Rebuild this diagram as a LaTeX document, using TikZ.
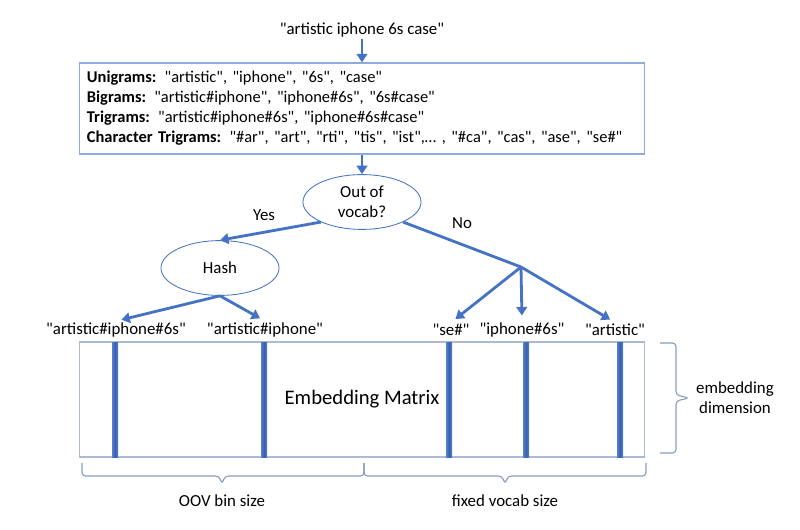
\documentclass[tikz,border=0pt]{standalone}
\usepackage{fontspec}
\setmainfont{Carlito}[Ligatures=TeXOff]
\usetikzlibrary{arrows.meta,shapes.geometric}
\definecolor{blx}{HTML}{4472C4}
\definecolor{bly}{HTML}{3560B4}
\definecolor{blz}{HTML}{8FAADC}
\definecolor{gbx}{HTML}{8A9CC0}
\tikzset{
    flow/.style={blx,line width=2pt,-{Triangle[length=6pt,width=7.5pt]}},
    bubble/.style={ellipse,draw=blx,line width=0.6pt,minimum width=2.95cm,minimum height=1.37cm,inner sep=0pt,align=center,font=\fontsize{12}{14.2}\selectfont},
    word/.style={inner sep=1pt,font=\fontsize{12}{14.2}\selectfont},
    curly/.style={gbx,line width=0.8pt,rounded corners=2.5pt}
}
\begin{document}
\begin{tikzpicture}[x=0.025cm,y=-0.025cm]
    \useasboundingbox (0,0) rectangle (800,530);
    \node [word] (query) at (362,30) {"artistic iphone 6s case"};
    \node [draw=blz,line width=0.8pt,minimum width=14.1cm,minimum height=2.275cm,
        text width=13.75cm,inner xsep=5pt,align=left,
        font=\fontsize{11.7}{14.2}\selectfont] (grams) at (362,108.5) {%
        \textbf{Unigrams:} "artistic", "iphone", "6s", "case"\\
        \textbf{Bigrams:} "artistic\#iphone", "iphone\#6s", "6s\#case"\\
        \textbf{Trigrams:} "artistic\#iphone\#6s", "iphone\#6s\#case"\\
        \textbf{Character Trigrams:} "\#ar", "art", "rti", "tis", "ist",… , "\#ca", "cas", "ase", "se\#"};
    \node [bubble] (oov) at (362,202) {Out of\\vocab?};
    \node [bubble] (hash) at (220,268) {Hash};
    \node [word] (yes) at (264,215) {Yes};
    \node [word] (no) at (462,223) {No};
    \coordinate (split) at (521,267);
    % lookup keys above the matrix
    \node [word] (tri) at (116,330) {"artistic\#iphone\#6s"};
    \node [word] (bi) at (265,330) {"artistic\#iphone"};
    \node [word] (chr) at (451,330) {"se\#"};
    \node [word] (big) at (522,330) {"iphone\#6s"};
    \node [word] (uni) at (615,330) {"artistic"};
    \node [draw=gbx!70,line width=0.8pt,minimum width=14.1cm,minimum height=2.875cm,
        font=\fontsize{14.7}{17}\selectfont] (emb) at (362,399.5) {Embedding Matrix};
    \foreach \x in {115,264,449,526,620} {
        \shade [left color=blx!90,right color=blx!90,middle color=bly] (\x-3,342) rectangle (\x+3,457);
    }
    \draw [flow] (query) -- (grams);
    \draw [flow] (grams) -- (oov);
    \draw [flow] (oov.206) -- (hash.north);
    \draw [blx,line width=2pt] (oov.334) -- (split);
    \foreach \t in {chr,big,uni} {
        \draw [flow,shorten >=4pt] (split) -- (\t.north);
    }
    \foreach \t in {tri,bi} {
        \draw [flow,shorten >=4pt] (hash.south) -- (\t.north);
    }
    % braces
    \draw [curly] (660,343) -- (676,343) -- (676,395) -- (689,398)
        -- (676,401) -- (676,453) -- (660,453);
    \draw [curly] (82,463) -- (82,476) -- (219,476) -- (222,484)
        -- (225,476) -- (364,476) -- (364,463);
    \draw [curly] (364,463) -- (364,476) -- (502,476) -- (505,484)
        -- (508,476) -- (646,476) -- (646,463);
    \node [word,align=center] (dim) at (735,398) {embedding\\dimension};
    \node [word] (oovsize) at (222,501) {OOV bin size};
    \node [word] (fixsize) at (505,501) {fixed vocab size};
\end{tikzpicture}
\end{document}
